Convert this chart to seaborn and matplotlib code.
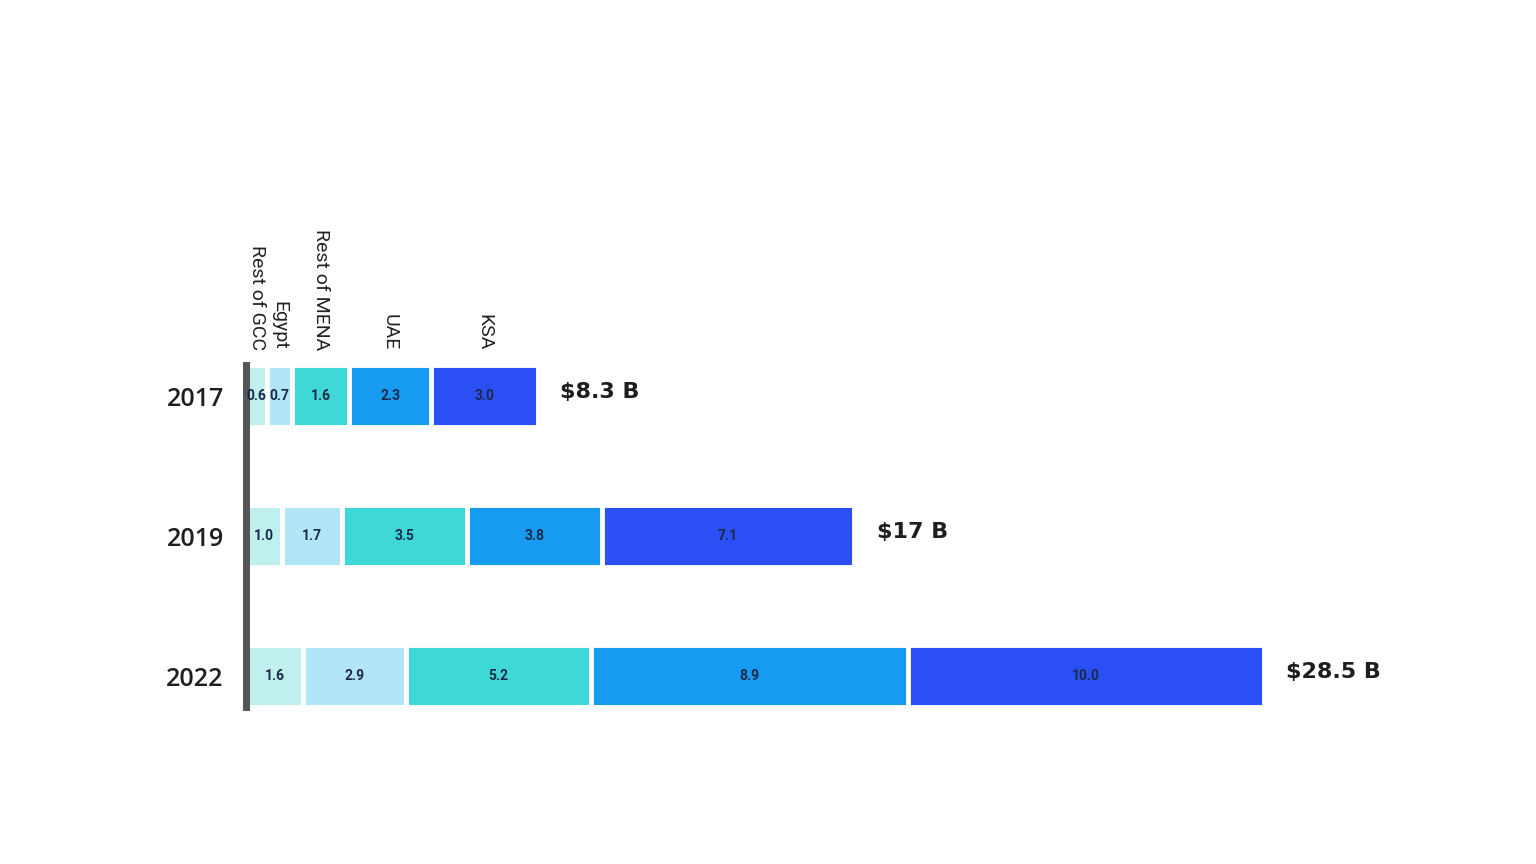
import numpy as np
import pandas as pd
import matplotlib
matplotlib.use("Agg")
import matplotlib.pyplot as plt
import seaborn as sns

# Data (US$ billions)
years = ["2017", "2019", "2022"]
regions = ["Rest of GCC", "Egypt", "Rest of MENA", "UAE", "KSA"]
rest_of_gcc = [0.6, 1.0, 1.6]
egypt = [0.7, 1.7, 2.9]
rest_of_mena = [1.6, 3.5, 5.2]
uae = [2.3, 3.8, 8.9]
ksa = [3.0, 7.1, 10.0]
totals = ["$8.3 B", "$17 B", "$28.5 B"]

colors = ["#bff0ee", "#b2e6f6", "#3ed9d6", "#179bf1", "#2a4ff4"]

df = pd.DataFrame({"year": years, "Rest of GCC": rest_of_gcc, "Egypt": egypt,
                   "Rest of MENA": rest_of_mena, "UAE": uae, "KSA": ksa})
cum = df[regions].cumsum(axis=1)

sns.set_style("white")
plt.rcParams["font.family"] = ["Roboto", "DejaVu Sans"]

fig = plt.figure(figsize=(15.36, 8.64), dpi=100)
ax = fig.add_axes([246 / 1536, 118 / 864, 1281 / 1536, 420 / 864])

# stacked bars: draw the cumulative totals from the outermost segment inwards
bar_h = 0.44
for reg, col in reversed(list(zip(regions, colors))):
    sns.barplot(x=cum[reg], y=df["year"], orient="h", color=col, width=bar_h,
                edgecolor="white", linewidth=3.5, ax=ax, saturation=1)

for i, yr in enumerate(years):
    for reg in regions:
        v = df.loc[i, reg]
        mid = cum.loc[i, reg] - v / 2
        ax.text(mid, i, f"{v:.1f}", ha="center", va="center", fontsize=10,
                fontweight="bold", color="#1b2a4a")
    ax.annotate(totals[i], xy=(cum.loc[i, "KSA"], i), xytext=(16, 3),
                textcoords="offset points", ha="left", va="center",
                fontsize=16, fontweight="bold", color="#1e1e1e",
                family="DejaVu Sans")

# region headers above the first bar
for reg in regions:
    v = df.loc[0, reg]
    mid = cum.loc[0, reg] - v / 2
    ax.annotate(reg, xy=(mid, -bar_h / 2), xytext=(0, 11), textcoords="offset points",
                rotation=270, ha="center", va="bottom", fontsize=14, color="#222222")

ax.set_xlim(0, 36)
ax.set_ylim(2.5, -0.5)
ax.set_xlabel("")
ax.set_ylabel("")
ax.set_xticks([])
ax.tick_params(axis="y", length=0, pad=16)
for lab in ax.get_yticklabels():
    lab.set_fontsize(18)
    lab.set_fontweight("semibold")
    lab.set_fontfamily(["Open Sans", "DejaVu Sans"])
    lab.set_color("#1e1e1e")

sns.despine(ax=ax, top=True, right=True, bottom=True, left=False)
ax.spines["left"].set_color("#555555")
ax.spines["left"].set_linewidth(5)
ax.spines["left"].set_bounds(-bar_h / 2, 2 + bar_h / 2)

fig.savefig("out.png", dpi=100, facecolor="white")
